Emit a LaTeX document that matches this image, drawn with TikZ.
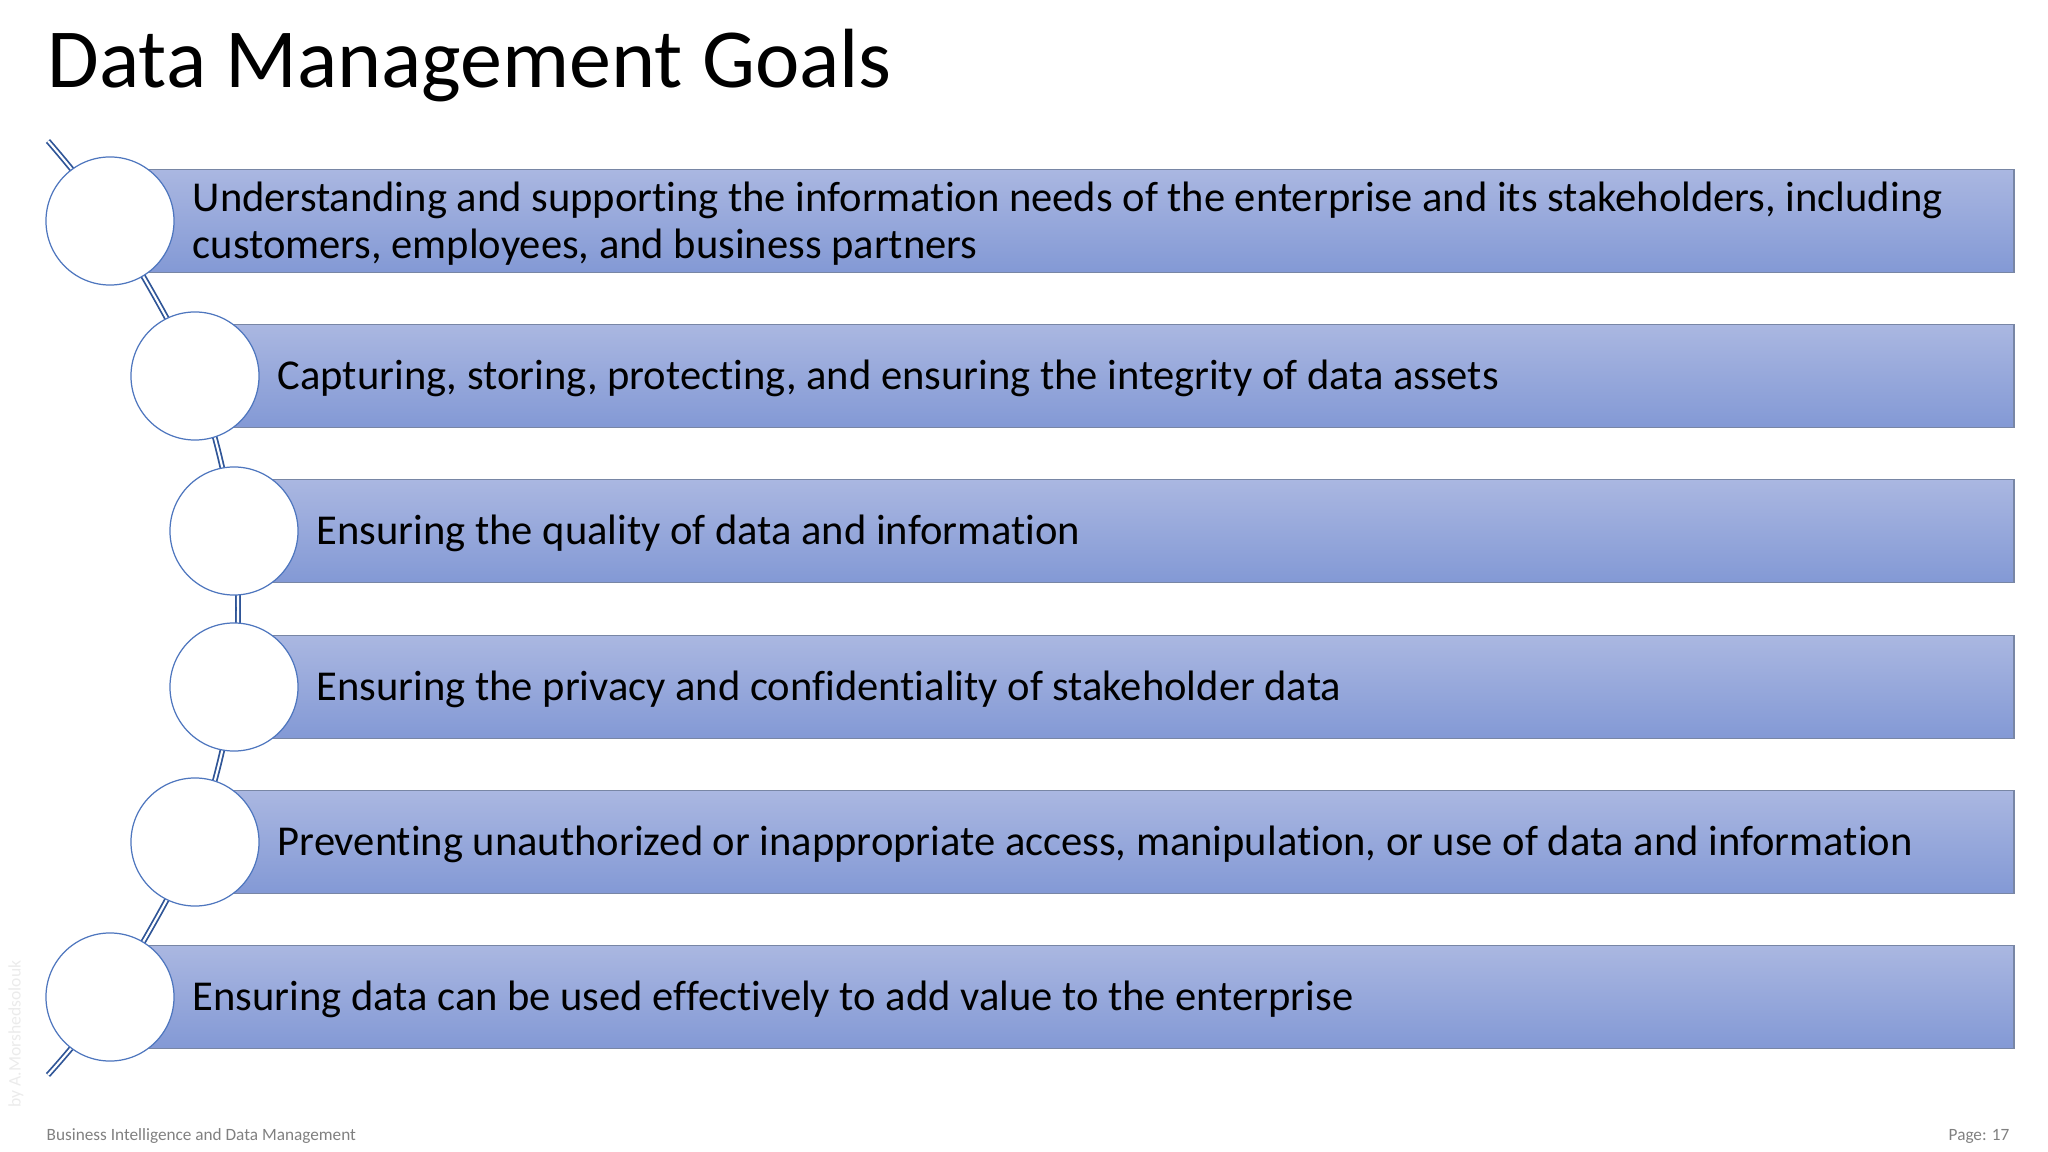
\documentclass[tikz,border=0pt]{standalone}
\usepackage{fontspec}
\setmainfont{Carlito}[Ligatures=NoCommon]
\usetikzlibrary{backgrounds}
\definecolor{barTop}{RGB}{170,183,225}
\definecolor{barBot}{RGB}{131,153,213}
\definecolor{barLine}{RGB}{120,134,165}
\definecolor{ringBlue}{RGB}{78,118,190}
\definecolor{spineBlue}{RGB}{47,85,151}
\definecolor{footGray}{RGB}{128,128,128}
\tikzset{
  goalbar/.style = {
    rectangle, draw=barLine, line width=0.5pt,
    top color=barTop, bottom color=barBot,
    minimum height=1.03cm, inner sep=0pt, anchor=west
  },
  bead/.style = {
    circle, draw=ringBlue, line width=0.35pt, fill=white,
    minimum size=1.28cm, inner sep=0pt
  },
  goal/.style = {
    anchor=west, align=left, inner sep=0pt,
    font=\fontsize{12.1}{13.4}\selectfont
  },
  spine/.style = {
    draw=spineBlue, line width=0.5pt, double=white, double distance=0.6pt
  },
  foot/.style = {
    font=\fontsize{4.9}{6}\selectfont, text=footGray, inner sep=0pt
  }
}

\begin{document}
\begin{tikzpicture}[x=0.01cm, y=-0.01cm]

    \useasboundingbox (0,0) rectangle (2048,1152);

    % ------------------------------------------------------------- Title
    \node [anchor=base west, inner sep=0pt, font=\fontsize{23.9}{28}\selectfont]
      (title) at (47,88) {Data Management Goals};

    % -------------------------------------------------------------- Bars
    \node [goalbar, minimum width=19.02cm] (bar1) at (110,221) {};
    \node [goalbar, minimum width=18.17cm] (bar2) at (195,376) {};
    \node [goalbar, minimum width=17.78cm] (bar3) at (234,531) {};
    \node [goalbar, minimum width=17.78cm] (bar4) at (234,687) {};
    \node [goalbar, minimum width=18.17cm] (bar5) at (195,842) {};
    \node [goalbar, minimum width=19.02cm] (bar6) at (110,997) {};

    % ----------------------------------------------------------- Beads
    \node [bead] (c1) at (110,221) {};
    \node [bead] (c2) at (195,376) {};
    \node [bead] (c3) at (234,531) {};
    \node [bead] (c4) at (234,687) {};
    \node [bead] (c5) at (195,842) {};
    \node [bead] (c6) at (110,997) {};

    % ----------------------------------------------------------- Goals
    \node [goal] (g1) at (192,224) {Understanding and supporting the information needs of the enterprise and its stakeholders, including\\customers, employees, and business partners};
    \node [goal] (g2) at (277,378) {Capturing, storing, protecting, and ensuring the integrity of data assets};
    \node [goal] (g3) at (316,533) {Ensuring the quality of data and information};
    \node [goal] (g4) at (316,689) {Ensuring the privacy and confidentiality of stakeholder data};
    \node [goal] (g5) at (277,844) {Preventing unauthorized or inappropriate access, manipulation, or use of data and information};
    \node [goal] (g6) at (192,999) {Ensuring data can be used effectively to add value to the enterprise};

    % ---------------------------------------------------------- Footer
    \node [foot, anchor=base west] (course) at (46,1140) {Business Intelligence and Data Management};
    \node [foot, anchor=base east] (page) at (2010,1140) {Page: 17};
    \node [foot, text=black!8, font=\fontsize{5}{6}\selectfont, rotate=90]
      (mark) at (16,1034) {by A.Morshedsolouk};

    % ------------------------------------------ Spine (behind the shapes)
    \coordinate (spineTop) at (48,141);
    \coordinate (spineEnd) at (48,1075);
    \begin{scope}[on background layer]
      \draw [spine] plot [smooth, tension=0.5] coordinates {(spineTop) (c1.center) (c2.center) (c3.center) (c4.center) (c5.center) (c6.center) (spineEnd)};
    \end{scope}

\end{tikzpicture}
\end{document}
